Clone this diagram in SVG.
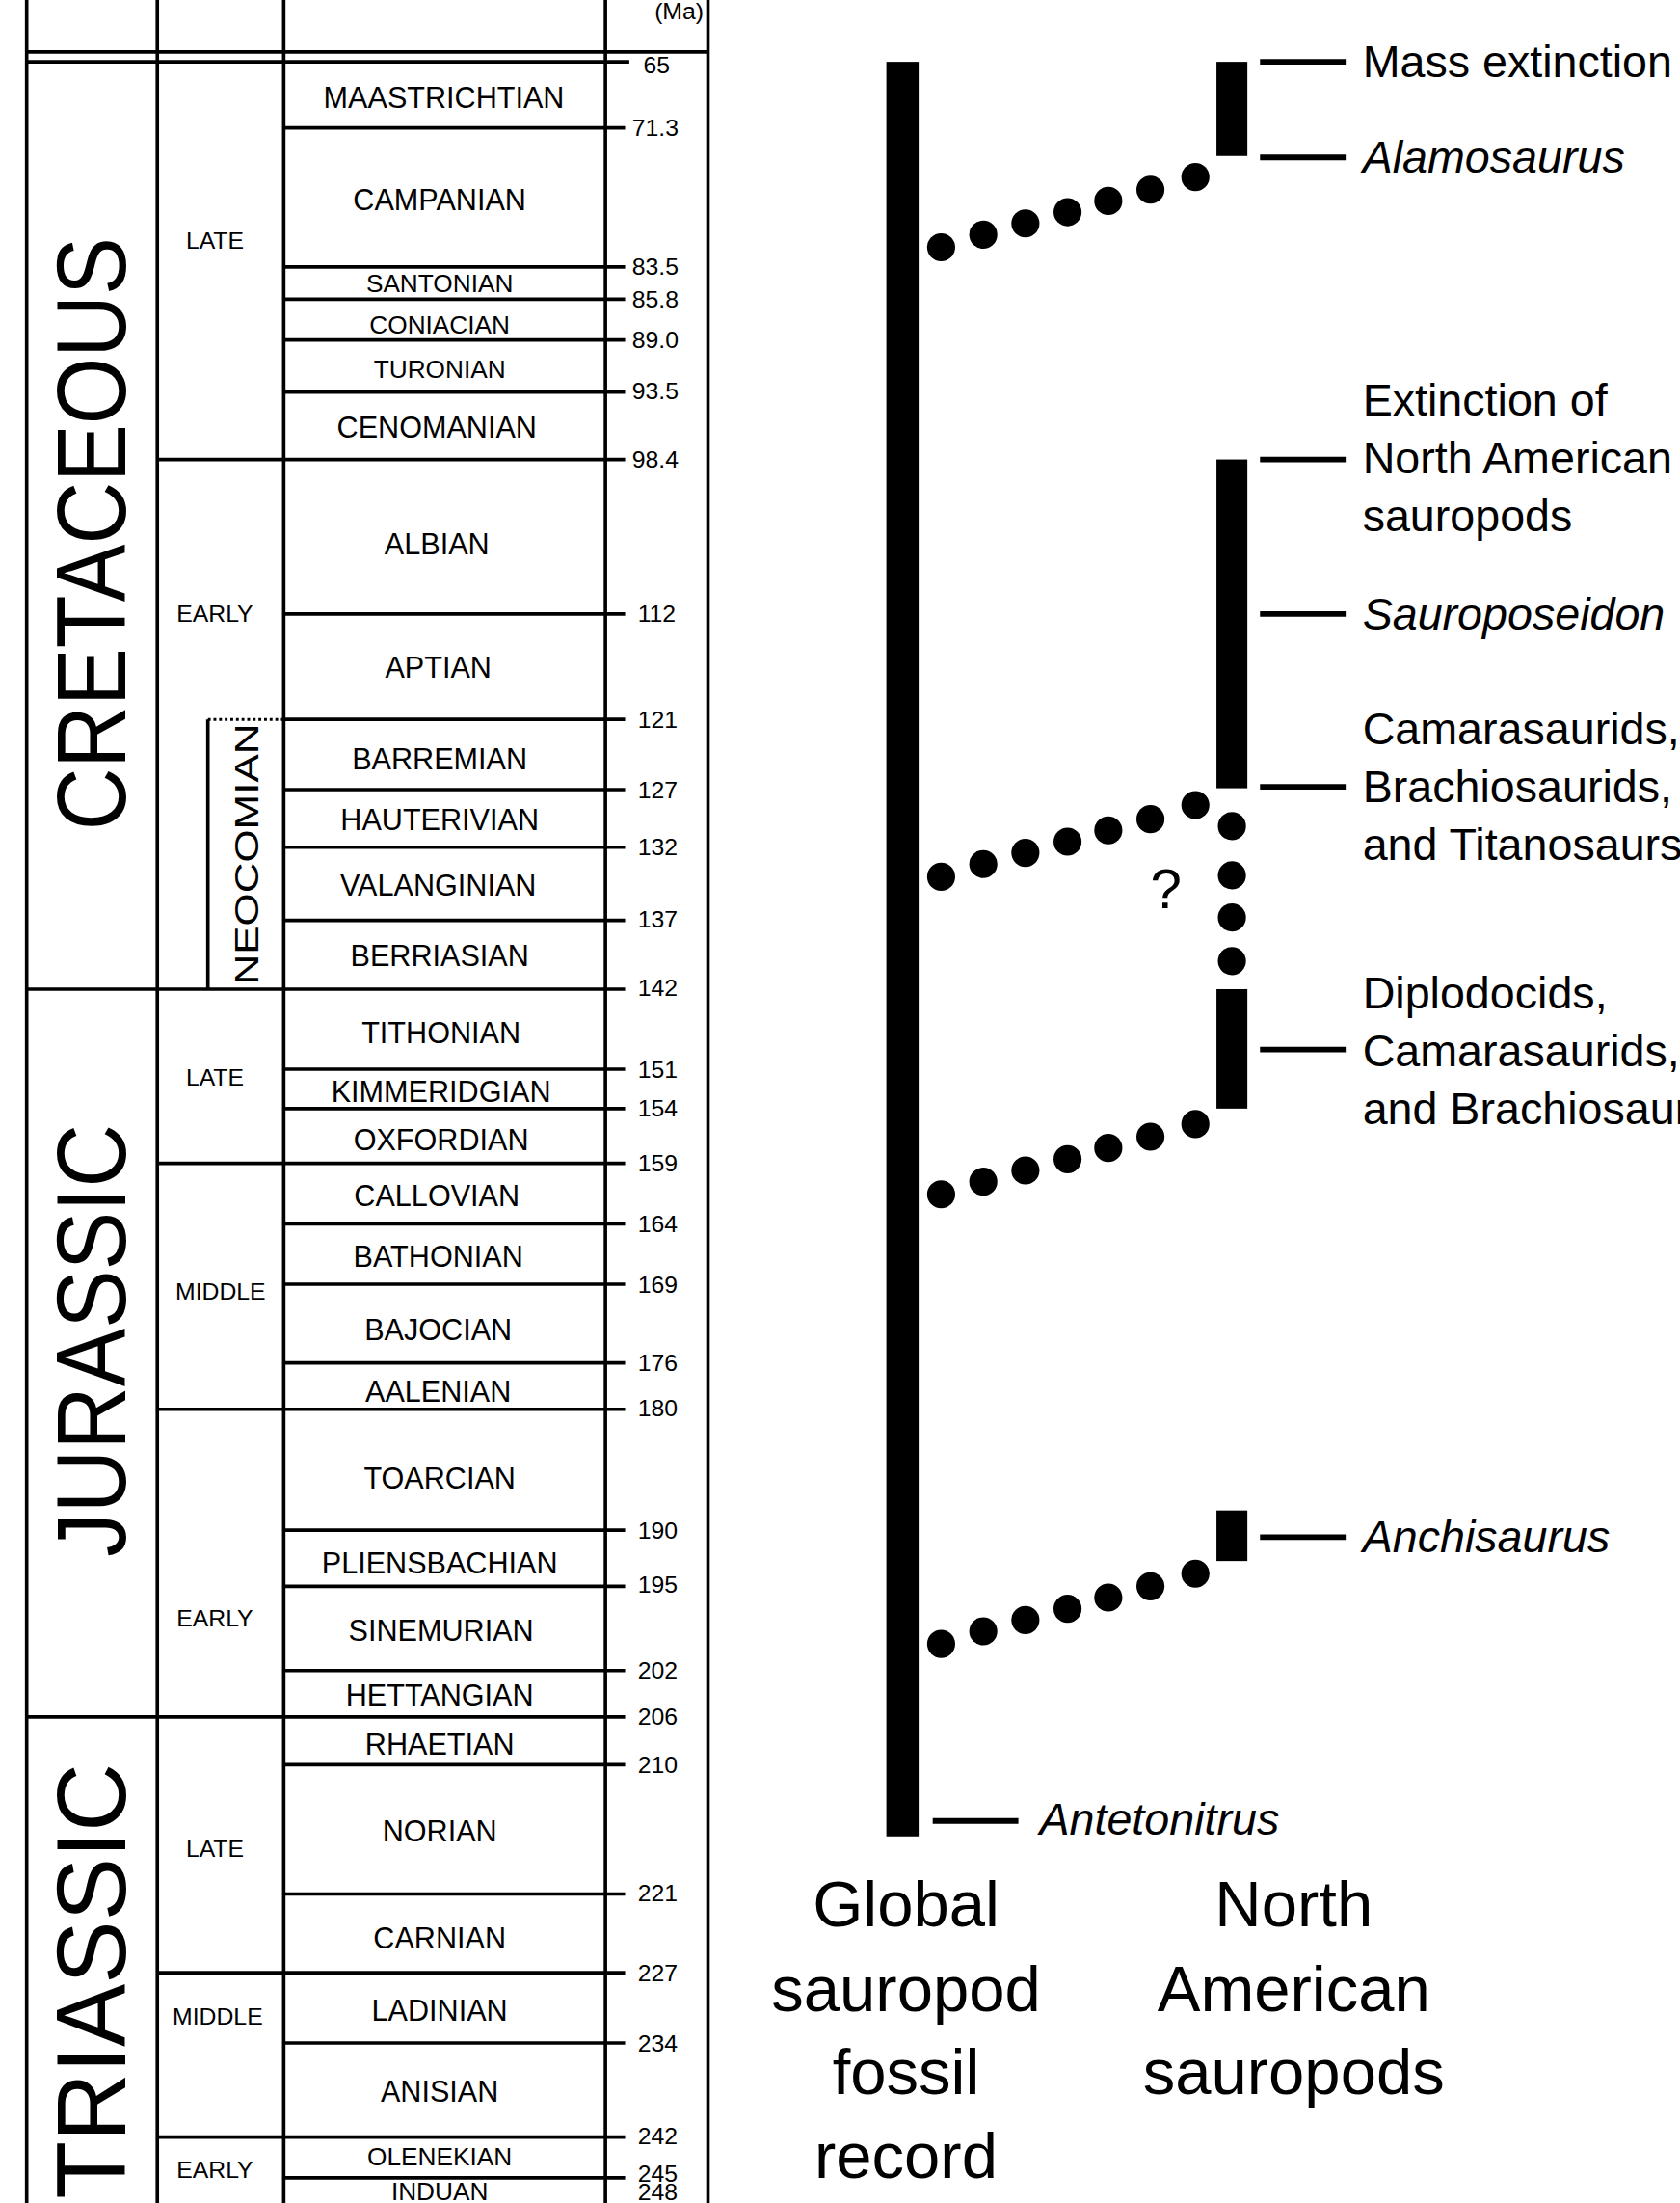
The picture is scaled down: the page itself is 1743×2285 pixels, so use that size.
<svg xmlns="http://www.w3.org/2000/svg" width="1743" height="2285" viewBox="0 0 1743 2285">
<style>
text{font-family:"Liberation Sans",Arial,sans-serif;fill:#000}
.st{font-size:21px;text-anchor:middle;dominant-baseline:central}
.ss{font-size:18px;text-anchor:middle;dominant-baseline:central}
.ep{font-size:17px;text-anchor:middle;dominant-baseline:central}
.ma{font-size:17px;dominant-baseline:central}
.pr{font-size:70px;text-anchor:middle;dominant-baseline:central}
.lb{font-size:32px;dominant-baseline:central}
.it{font-style:italic}
.bt{font-size:46px;text-anchor:middle;dominant-baseline:central}
.ln{stroke:#000;stroke-width:2.5;fill:none}
.tk{stroke:#000;stroke-width:4}
</style>
<rect width="1743" height="2285" fill="#fff"/>
<g transform="scale(1.45736)">
<g id="chart">
<path class="ln" d="M19 0V1568M112 0V1568M202 0V1568M431 0V1568M504 0V1568M19 37H504M19 44H448"/>
<path class="ln" d="M202 91H445M202 190H445M202 213H445M202 242H445M202 279H445M112 327H445M202 437H445M202 512H445M202 562H445M202 603H445M202 655H445M19 704H445M202 761H445M202 789H445M112 828H445M202 871H445M202 914H445M202 970H445M112 1003H445M202 1089H445M202 1129H445M202 1189H445M19 1222H445M202 1256H445M202 1348H445M112 1404H445M202 1454H445M112 1521H445M202 1550H445"/>
<path class="ln" d="M148 512V704"/>
<path d="M148 512H202" stroke="#000" stroke-width="2" stroke-dasharray="2 2"/>
<text class="ma" x="466" y="8">(Ma)</text>
<text class="pr" transform="translate(65 380) rotate(-90)" textLength="422" lengthAdjust="spacingAndGlyphs">CRETACEOUS</text>
<text class="pr" transform="translate(65 954) rotate(-90)" textLength="308" lengthAdjust="spacingAndGlyphs">JURASSIC</text>
<text class="pr" transform="translate(65 1410) rotate(-90)" textLength="310" lengthAdjust="spacingAndGlyphs">TRIASSIC</text>
<text class="st" transform="translate(175 608) rotate(-90)" style="font-size:24px" textLength="186" lengthAdjust="spacingAndGlyphs">NEOCOMIAN</text>
<text class="ep" x="153" y="171">LATE</text>
<text class="ep" x="153" y="437">EARLY</text>
<text class="ep" x="153" y="767">LATE</text>
<text class="ep" x="157" y="919">MIDDLE</text>
<text class="ep" x="153" y="1152">EARLY</text>
<text class="ep" x="153" y="1316">LATE</text>
<text class="ep" x="155" y="1435">MIDDLE</text>
<text class="ep" x="153" y="1544">EARLY</text>
<text class="st" x="316" y="69">MAASTRICHTIAN</text>
<text class="st" x="313" y="142">CAMPANIAN</text>
<text class="ss" x="313" y="202">SANTONIAN</text>
<text class="ss" x="313" y="231">CONIACIAN</text>
<text class="ss" x="313" y="263">TURONIAN</text>
<text class="st" x="311" y="304">CENOMANIAN</text>
<text class="st" x="311" y="387">ALBIAN</text>
<text class="st" x="312" y="475">APTIAN</text>
<text class="st" x="313" y="540">BARREMIAN</text>
<text class="st" x="313" y="583">HAUTERIVIAN</text>
<text class="st" x="312" y="630">VALANGINIAN</text>
<text class="st" x="313" y="680">BERRIASIAN</text>
<text class="st" x="314" y="735">TITHONIAN</text>
<text class="st" x="314" y="777">KIMMERIDGIAN</text>
<text class="st" x="314" y="811">OXFORDIAN</text>
<text class="st" x="311" y="851">CALLOVIAN</text>
<text class="st" x="312" y="894">BATHONIAN</text>
<text class="st" x="312" y="946">BAJOCIAN</text>
<text class="st" x="312" y="990">AALENIAN</text>
<text class="st" x="313" y="1052">TOARCIAN</text>
<text class="st" x="313" y="1112">PLIENSBACHIAN</text>
<text class="st" x="314" y="1160">SINEMURIAN</text>
<text class="st" x="313" y="1206">HETTANGIAN</text>
<text class="st" x="313" y="1241">RHAETIAN</text>
<text class="st" x="313" y="1303">NORIAN</text>
<text class="st" x="313" y="1379">CARNIAN</text>
<text class="st" x="313" y="1431">LADINIAN</text>
<text class="st" x="313" y="1488">ANISIAN</text>
<text class="ss" x="313" y="1535">OLENEKIAN</text>
<text class="ss" x="313" y="1560">INDUAN</text>
<text class="ma" x="458" y="46">65</text>
<text class="ma" x="450" y="91">71.3</text>
<text class="ma" x="450" y="190">83.5</text>
<text class="ma" x="450" y="213">85.8</text>
<text class="ma" x="450" y="242">89.0</text>
<text class="ma" x="450" y="278">93.5</text>
<text class="ma" x="450" y="327">98.4</text>
<text class="ma" x="454" y="437">112</text>
<text class="ma" x="454" y="512">121</text>
<text class="ma" x="454" y="562">127</text>
<text class="ma" x="454" y="603">132</text>
<text class="ma" x="454" y="654">137</text>
<text class="ma" x="454" y="703">142</text>
<text class="ma" x="454" y="761">151</text>
<text class="ma" x="454" y="789">154</text>
<text class="ma" x="454" y="828">159</text>
<text class="ma" x="454" y="871">164</text>
<text class="ma" x="454" y="914">169</text>
<text class="ma" x="454" y="970">176</text>
<text class="ma" x="454" y="1002">180</text>
<text class="ma" x="454" y="1089">190</text>
<text class="ma" x="454" y="1128">195</text>
<text class="ma" x="454" y="1189">202</text>
<text class="ma" x="454" y="1222">206</text>
<text class="ma" x="454" y="1256">210</text>
<text class="ma" x="454" y="1347">221</text>
<text class="ma" x="454" y="1404">227</text>
<text class="ma" x="454" y="1454">234</text>
<text class="ma" x="454" y="1520">242</text>
<text class="ma" x="454" y="1547">245</text>
<text class="ma" x="454" y="1560">248</text>
</g>
<g id="global-bar"><rect x="631" y="44" width="23" height="1263"/></g>
<g id="na-bars">
<rect x="866" y="44" width="22" height="67"/>
<rect x="866" y="327" width="22" height="234"/>
<rect x="866" y="704" width="22" height="85"/>
<rect x="866" y="1075" width="22" height="36"/>
</g>
<g id="connectors">
<g fill="#000">
<circle cx="670" cy="176" r="10"/><circle cx="700" cy="167" r="10"/><circle cx="730" cy="159" r="10"/><circle cx="760" cy="151" r="10"/><circle cx="789" cy="143" r="10"/><circle cx="819" cy="135" r="10"/><circle cx="851" cy="126" r="10"/>
<circle cx="670" cy="624" r="10"/><circle cx="700" cy="615" r="10"/><circle cx="730" cy="607" r="10"/><circle cx="760" cy="599" r="10"/><circle cx="789" cy="591" r="10"/><circle cx="819" cy="583" r="10"/><circle cx="851" cy="573" r="10"/>
<circle cx="670" cy="850" r="10"/><circle cx="700" cy="841" r="10"/><circle cx="730" cy="833" r="10"/><circle cx="760" cy="825" r="10"/><circle cx="789" cy="817" r="10"/><circle cx="819" cy="809" r="10"/><circle cx="851" cy="800" r="10"/>
<circle cx="670" cy="1170" r="10"/><circle cx="700" cy="1161" r="10"/><circle cx="730" cy="1153" r="10"/><circle cx="760" cy="1145" r="10"/><circle cx="789" cy="1137" r="10"/><circle cx="819" cy="1129" r="10"/><circle cx="851" cy="1120" r="10"/>
<circle cx="877" cy="588" r="10"/><circle cx="877" cy="623" r="10"/><circle cx="877" cy="653" r="10"/><circle cx="877" cy="684" r="10"/>
</g>
<path class="tk" d="M897 44H958M897 112H958M897 327H958M897 437H958M897 560H958M897 747H958M897 1094H958M664 1296H725"/>
</g>
<g id="labels">
<text x="830" y="632" style="font-size:40px;text-anchor:middle;dominant-baseline:central">?</text>
<text class="lb" x="970" y="44">Mass extinction</text>
<text class="lb it" x="970" y="112">Alamosaurus</text>
<text class="lb" x="970" y="285">Extinction of</text>
<text class="lb" x="970" y="326">North American</text>
<text class="lb" x="970" y="367">sauropods</text>
<text class="lb it" x="970" y="437">Sauroposeidon</text>
<text class="lb" x="970" y="519">Camarasaurids,</text>
<text class="lb" x="970" y="560">Brachiosaurids,</text>
<text class="lb" x="970" y="601">and Titanosaurs</text>
<text class="lb" x="970" y="707">Diplodocids,</text>
<text class="lb" x="970" y="748">Camarasaurids,</text>
<text class="lb" x="970" y="789">and Brachiosaurids</text>
<text class="lb it" x="970" y="1094">Anchisaurus</text>
<text class="lb it" x="740" y="1295">Antetonitrus</text>
<text class="bt" x="645" y="1355">Global</text>
<text class="bt" x="645" y="1415">sauropod</text>
<text class="bt" x="645" y="1474">fossil</text>
<text class="bt" x="645" y="1534">record</text>
<text class="bt" x="921" y="1355">North</text>
<text class="bt" x="921" y="1415">American</text>
<text class="bt" x="921" y="1474">sauropods</text>
</g>
</g>
</svg>
